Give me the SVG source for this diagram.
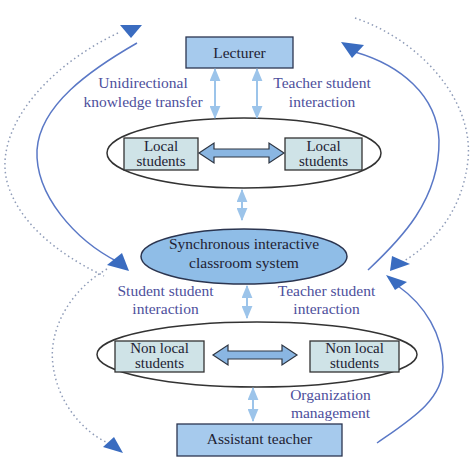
<svg xmlns="http://www.w3.org/2000/svg" width="474" height="474" viewBox="0 0 474 474">
<defs>
<style>
.lbl{font-family:"Liberation Serif","Times New Roman",serif;font-size:15.5px;fill:#4d4f9c;text-anchor:middle}
.nt{font-family:"Liberation Serif","Times New Roman",serif;font-size:15.5px;fill:#222233;text-anchor:middle}
.nt2{font-family:"Liberation Serif","Times New Roman",serif;font-size:15px;fill:#222233;text-anchor:middle}
.box{fill:#a6caed;stroke:#2b3550;stroke-width:1.3}
.sbox{fill:#cfe3e7;stroke:#333;stroke-width:1.3}
.ell{fill:#fff;stroke:#333;stroke-width:1.5}
.sm{stroke:#9cc4ea;stroke-width:2;fill:none;marker-start:url(#sh);marker-end:url(#sh)}
.thick{fill:#8ab6e2;stroke:#2d3440;stroke-width:1.2}
.solid{fill:none;stroke:#5a78c6;stroke-width:1.5}
.dot{fill:none;stroke:#8f9cb8;stroke-width:1.5;stroke-dasharray:1.5 3}
.ah{fill:#3a6cc0}
</style>
<marker id="sh" viewBox="0 0 12 10" refX="11" refY="5" markerWidth="13" markerHeight="11" markerUnits="userSpaceOnUse" orient="auto-start-reverse">
<path d="M0,0 L12,5 L0,10 Z" fill="#9cc4ea"/>
</marker>
</defs>

<g id="lecturer">
<rect class="box" x="186" y="37" width="107" height="31"/>
<text class="nt" x="239.5" y="57.5">Lecturer</text>
</g>

<g id="labels-top">
<text class="lbl" x="143" y="88">Unidirectional</text>
<text class="lbl" x="143" y="107">knowledge transfer</text>
<text class="lbl" x="322" y="88">Teacher student</text>
<text class="lbl" x="322" y="107">interaction</text>
</g>

<g id="local-group">
<ellipse class="ell" cx="244" cy="153" rx="137" ry="35"/>
</g>
<g id="local-left">
<rect class="sbox" x="124" y="138" width="74" height="32"/>
<text class="nt2" x="161" y="151">Local</text>
<text class="nt2" x="161" y="166">students</text>
</g>
<g id="local-right">
<rect class="sbox" x="285" y="138" width="77" height="32"/>
<text class="nt2" x="323.5" y="151">Local</text>
<text class="nt2" x="323.5" y="166">students</text>
</g>

<g id="sics">
<ellipse cx="244" cy="256.5" rx="103" ry="27.5" fill="#8fbde7" stroke="#2b3550" stroke-width="1.5"/>
<text class="nt" x="244" y="249">Synchronous interactive</text>
<text class="nt" x="244" y="268">classroom system</text>
</g>

<g id="labels-mid">
<text class="lbl" x="165.5" y="296">Student student</text>
<text class="lbl" x="165.5" y="314">interaction</text>
<text class="lbl" x="326.5" y="296">Teacher student</text>
<text class="lbl" x="326.5" y="314">interaction</text>
</g>

<g id="nonlocal-group">
<ellipse class="ell" cx="257" cy="354.5" rx="160" ry="32.5"/>
</g>
<g id="nonlocal-left">
<rect class="sbox" x="115" y="341" width="89" height="31"/>
<text class="nt2" x="159.5" y="353">Non local</text>
<text class="nt2" x="159.5" y="368">students</text>
</g>
<g id="nonlocal-right">
<rect class="sbox" x="310" y="341" width="89" height="31"/>
<text class="nt2" x="354.5" y="353">Non local</text>
<text class="nt2" x="354.5" y="368">students</text>
</g>

<g id="labels-bottom">
<text class="lbl" x="330.5" y="400">Organization</text>
<text class="lbl" x="330.5" y="418">management</text>
</g>

<g id="assistant">
<rect class="box" x="177" y="424" width="165" height="32"/>
<text class="nt" x="259.5" y="444">Assistant teacher</text>
</g>

<g id="connectors">
<!-- big curved arrows -->
<path class="solid" d="M137,43 C90,70 40,105 37,150 C35,195 75,240 118,262"/>
<polygon class="ah" points="129,271 107,265 122,253"/>
<path class="dot" d="M118,33 C40,70 -8,135 8,185 C22,230 70,260 104,276"/>
<polygon class="ah" points="120,25 142,25 131,38"/>
<path class="dot" d="M107,269 C70,290 48,330 53,365 C58,405 85,432 106,442"/>
<polygon class="ah" points="103,447 123,453 114,437"/>
<path class="solid" d="M368,270 C400,240 440,200 439,140 C437,95 400,65 355,52"/>
<polygon class="ah" points="341,42 364,45 352,58"/>
<path class="dot" d="M355,18 C420,40 474,100 468,160 C462,215 430,245 404,261"/>
<polygon class="ah" points="390,271 392,256 410,264"/>
<path class="solid" d="M377,443 C410,420 443,400 443,367 C443,335 425,305 398,286"/>
<polygon class="ah" points="386,275 407,282 395,290"/>

<!-- small double arrows -->
<line class="sm" x1="215" y1="69" x2="215" y2="118"/>
<line class="sm" x1="257" y1="69" x2="257" y2="118"/>
<line class="sm" x1="242" y1="190" x2="242" y2="220"/>
<line class="sm" x1="247" y1="286" x2="247" y2="318"/>
<line class="sm" x1="253" y1="388" x2="253" y2="421"/>

<!-- thick double arrows -->
<polygon class="thick" points="199,153 214,143 214,149 269,149 269,143 284,153 269,163 269,157 214,157 214,163"/>
<polygon class="thick" points="213,355 228,345 228,351 282,351 282,345 297,355 282,365 282,359 228,359 228,365"/>
</g>
</svg>
